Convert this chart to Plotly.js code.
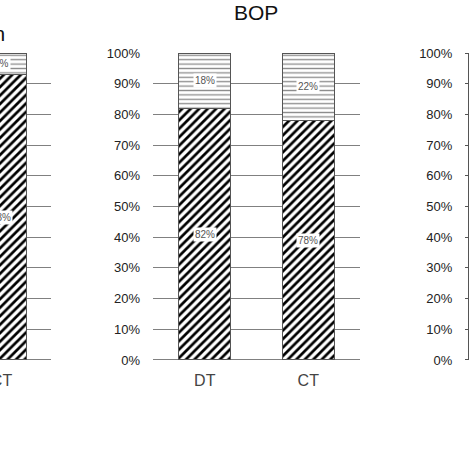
<!DOCTYPE html>
<html>
<head>
<meta charset="utf-8">
<script src="https://cdn.plot.ly/plotly-3.0.1.min.js"></script>
<style>
  html, body { margin: 0; padding: 0; background: #fff; }
  #chart { width: 474px; height: 474px; }
</style>
</head>
<body>
<div id="chart"></div>
<script>
// categories shared by the panels
const groups = ['DT', 'CT'];

// left panel (only its CT bar shows in the crop)
const leftGroups = ['CT'];
const leftLower = [93];
const leftUpper = [7];

// BOP panel
const bopLower = [82, 78];
const bopUpper = [18, 22];

const yTicks = [0, 10, 20, 30, 40, 50, 60, 70, 80, 90, 100];
const yTickText = yTicks.map(v => v + '%');

const hatchLower = { shape: '/', fgcolor: '#000', bgcolor: '#fff', size: 6, solidity: 0.45 };
const hatchUpper = { shape: '-', fgcolor: '#8c8c8c', bgcolor: '#fff', size: 4.4, solidity: 0.3 };
const outline = { color: '#555', width: 1 };

function lowerTrace(x, y, xa, ya) {
    return {
        type: 'bar', x: x, y: y, xaxis: xa, yaxis: ya,
        marker: { color: '#fff', pattern: hatchLower, line: outline },
        hoverinfo: 'skip', showlegend: false
    };
}
function upperTrace(x, y, xa, ya) {
    return {
        type: 'bar', x: x, y: y, xaxis: xa, yaxis: ya,
        marker: { color: '#fff', pattern: hatchUpper, line: outline },
        hoverinfo: 'skip', showlegend: false
    };
}

const data = [
    lowerTrace(leftGroups, leftLower, 'x', 'y'),
    upperTrace(leftGroups, leftUpper, 'x', 'y'),
    lowerTrace(groups, bopLower, 'x2', 'y2'),
    upperTrace(groups, bopUpper, 'x2', 'y2'),
    { type: 'bar', x: [], y: [], xaxis: 'x3', yaxis: 'y3', showlegend: false }
];

// value labels in the middle of each segment
function segLabels(cats, lower, upper, xref, yref) {
    const out = [];
    cats.forEach((c, i) => {
        out.push({ x: c, y: lower[i] / 2, text: lower[i] + '%', xref: xref, yref: yref });
        out.push({ x: c, y: lower[i] + upper[i] / 2, text: upper[i] + '%', xref: xref, yref: yref });
    });
    return out.map(a => Object.assign(a, {
        showarrow: false, bgcolor: '#fff', borderpad: 1,
        font: { family: 'Liberation Sans, Arial', size: 10, color: '#555' }
    }));
}

const yBase = {
    domain: [0.2405, 0.888], range: [0, 100],
    tickmode: 'array', tickvals: yTicks, ticktext: yTickText,
    tickfont: { family: 'Liberation Sans, Arial', size: 13, color: '#222' },
    showgrid: true, gridcolor: '#808080', gridwidth: 1,
    zeroline: true, zerolinecolor: '#808080', zerolinewidth: 1,
    fixedrange: true
};
const xBase = {
    type: 'category', categoryorder: 'array', categoryarray: groups,
    showgrid: false, zeroline: false, showline: false, ticks: '',
    ticklabelstandoff: 9,
    tickfont: { family: 'Liberation Sans, Arial', size: 16, color: '#444' },
    fixedrange: true
};

const layout = {
    width: 474, height: 474,
    margin: { l: 0, r: 0, t: 0, b: 0 },
    paper_bgcolor: '#fff', plot_bgcolor: 'rgba(0,0,0,0)',
    barmode: 'stack', bargap: 0.5,
    xaxis: Object.assign({}, xBase, { domain: [0, 51 / 474], range: [0.985, 1.5], anchor: 'y' }),
    yaxis: Object.assign({}, yBase, { anchor: 'x', showticklabels: false }),
    xaxis2: Object.assign({}, xBase, { domain: [153 / 474, 360 / 474], range: [-0.5, 1.5], anchor: 'y2' }),
    yaxis2: Object.assign({}, yBase, { anchor: 'x2', ticklabelstandoff: 12 }),
    xaxis3: Object.assign({}, xBase, { domain: [469 / 474, 1], range: [-0.5, 1.5], anchor: 'y3', showticklabels: false }),
    yaxis3: Object.assign({}, yBase, {
        anchor: 'x3', showgrid: false, zeroline: false,
        showline: true, linecolor: '#555', linewidth: 1,
        ticks: 'outside', ticklen: 3, tickcolor: '#555', ticklabelstandoff: 10
    }),
    annotations: [
        { text: 'BOP', xref: 'paper', yref: 'paper', x: 256 / 474, y: 1 - 12 / 474,
          xanchor: 'center', yanchor: 'middle', showarrow: false,
          font: { family: 'Liberation Sans, Arial', size: 21, color: '#111' } },
        { text: 'Suppuration', xref: 'paper', yref: 'paper', x: 7 / 474, y: 1 - 33 / 474,
          xanchor: 'right', yanchor: 'middle', showarrow: false,
          font: { family: 'Liberation Sans, Arial', size: 21, color: '#111' } }
    ].concat(segLabels(leftGroups, leftLower, leftUpper, 'x', 'y'))
     .concat(segLabels(groups, bopLower, bopUpper, 'x2', 'y2'))
};

Plotly.newPlot('chart', data, layout, { staticPlot: true });
</script>
</body>
</html>
